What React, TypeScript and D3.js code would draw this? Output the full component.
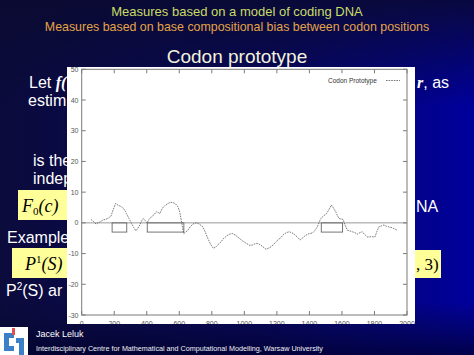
import React from "react";
import * as d3 from "d3";

const W = 474;
const H = 355;

const xTicks = [0, 200, 400, 600, 800, 1000, 1200, 1400, 1600, 1800, 2000];
const yTicks = [-30, -20, -10, 0, 10, 20, 30, 40, 50];

const posX = [
  57, 72, 88, 100, 112, 130, 150, 165, 180, 195, 208, 222, 235, 245, 258, 268, 275, 290, 306, 320,
  333, 345, 357, 368, 378, 390, 402, 415, 429, 444, 459, 470, 480, 490, 500, 515, 531, 546, 561, 577,
  592, 603, 612, 620, 627, 640, 653, 668, 684, 696, 708, 720, 733, 745, 760, 776, 793, 810, 826, 840,
  857, 870, 884, 898, 913, 929, 944, 959, 975, 990, 1010, 1031, 1050, 1065, 1082, 1095, 1110, 1133, 1150, 1164,
  1180, 1194, 1210, 1225, 1240, 1258, 1276, 1292, 1307, 1325, 1343, 1360, 1378, 1398, 1419, 1435, 1449, 1460, 1470, 1488,
  1505, 1520, 1535, 1548, 1562, 1572, 1582, 1595, 1607, 1620, 1633, 1648, 1664, 1680, 1694, 1710, 1725, 1740, 1756, 1780,
  1803, 1815, 1827, 1842, 1858, 1873, 1888, 1910, 1929, 1940,
];
const protoY = [
  1.1, 0.5, -0.4, 0, 0.3, 0.9, 1.2, 1.6, 2.2, 4.5, 6.3, 5.8, 5.5, 5.2, 4.6, 3.8, 3, 1.5, -0.2, -1.5,
  -2.6, -1.8, -0.7, 0.6, 1.4, 0.8, 0, 1.2, 2, 2.6, 3.6, 3.4, 3, 4.2, 5, 5.8, 6.3, 6.7, 6.6, 6.2,
  5.2, 3.5, 0.9, -1.5, -3.5, -3, -2.4, -1.2, -0.4, -0.1, 0, -0.3, -0.8, -1.3, -3, -5.1, -7, -8.3, -7.8, -7,
  -6.2, -5.2, -4.6, -4, -3.6, -3.5, -4, -4.6, -5.3, -5.9, -6.6, -7.3, -7.2, -6.8, -6.7, -7.1, -7.6, -8.6, -8.2, -7.8,
  -7, -6.2, -5.4, -4.8, -3.8, -3.2, -2.9, -3.2, -3.7, -4.6, -5.6, -4.8, -4, -3.5, -3.3, -2.4, -1.3, 0.2, 1.4, 2.3,
  3, 4.3, 5.8, 4.8, 3.6, 2.4, 1.4, 1.3, 1.1, -0.8, -2.4, -2.6, -2.9, -3.2, -3.7, -3.2, -2.9, -3.8, -4.6, -4.5,
  -4.6, -2.8, -1.3, -1, -0.7, -1.1, -1.3, -1.6, -2.1, -2.4,
];

const regionStart = [187, 403, 1473];
const regionEnd = [277, 628, 1604];
const regionDepth = [-3, -3, -3];

const seriesName = "Codon Prototype";

export default function App() {
  const left = 81.7;
  const right = 407;
  const top = 69.3;
  const bottom = 315;
  const x = d3.scaleLinear().domain([0, 2000]).range([left, right]);
  const y = d3.scaleLinear().domain([-30, 50]).range([bottom, top]);
  const pts: [number, number][] = posX.map((v, i) => [v, protoY[i]]);
  const line = d3
    .line<[number, number]>()
    .x((d) => x(d[0]))
    .y((d) => y(d[1]))
    .curve(d3.curveLinear);
  const tickLen = 4;
  const sans = "'Liberation Sans', Arial, sans-serif";
  const serif = "'Liberation Serif', 'DejaVu Serif', serif";
  const axisCol = "#7a7a7a";
  const labCol = "#555";

  return (
    <svg
      width={W}
      height={H}
      style={{ position: "fixed", left: 0, top: 0, display: "block" }}
    >
      <defs>
        <linearGradient id="bgH" x1="0" y1="0" x2="1" y2="0">
          <stop offset="0" stopColor="#0b0b3c" />
          <stop offset="0.55" stopColor="#07075e" />
          <stop offset="1" stopColor="#00009c" />
        </linearGradient>
        <linearGradient id="bgV" x1="0" y1="0" x2="0" y2="1">
          <stop offset="0" stopColor="#0a0a30" stopOpacity="0.85" />
          <stop offset="0.3" stopColor="#0a0a30" stopOpacity="0" />
          <stop offset="0.85" stopColor="#0a0a30" stopOpacity="0" />
          <stop offset="1" stopColor="#00002a" stopOpacity="0.7" />
        </linearGradient>
        <clipPath id="panelClip">
          <rect x={0} y={0} width={W} height={324} />
        </clipPath>
        <clipPath id="leftClip">
          <rect x={0} y={60} width={67} height={264} />
        </clipPath>
        <clipPath id="rightClip">
          <rect x={415} y={60} width={59} height={264} />
        </clipPath>
      </defs>
      <rect x={0} y={0} width={W} height={H} fill="url(#bgH)" />
      <rect x={0} y={0} width={W} height={H} fill="url(#bgV)" />

      {/* slide titles */}
      <text x={237} y={16} textAnchor="middle" fontFamily={sans} fontSize={13} fill="#c9dc66">
        Measures based on a model of coding DNA
      </text>
      <text x={237} y={31} textAnchor="middle" fontFamily={sans} fontSize={12.4} fill="#e3a446">
        Measures based on base compositional bias between codon positions
      </text>
      <text x={237} y={63} textAnchor="middle" fontFamily={sans} fontSize={19} fill="#f2f2dc">
        Codon prototype
      </text>

      {/* slide body text, cut by the chart panel */}
      <g clipPath="url(#leftClip)">
        <g fontFamily={sans} fontSize={16} fill="#ffffff">
          <text x={29} y={88}>
            Let{" "}
            <tspan fontFamily={serif} fontStyle="italic" fontWeight="bold">
              f(
            </tspan>
          </text>
          <text x={28} y={106}>estim</text>
          <text x={33} y={166}>is the</text>
          <text x={33} y={184}>indep</text>
          <text x={7} y={243}>Example</text>
          <text x={6} y={296}>
            P<tspan fontSize={10} dy={-6}>2</tspan>
            <tspan dy={6}>(S) ar</tspan>
          </text>
        </g>
        <rect x={18} y={190} width={60} height={30} fill="#ffff99" />
        <text x={22} y={212} fontFamily={serif} fontStyle="italic" fontSize={18} fill="#000">
          F<tspan fontSize={11} dy={3} fontStyle="normal">0</tspan>
          <tspan dy={-3}>(c)</tspan>
        </text>
        <rect x={12} y={248} width={66} height={30} fill="#ffff99" />
        <text x={25} y={270} fontFamily={serif} fontStyle="italic" fontSize={18} fill="#000">
          P<tspan fontSize={11} dy={-7} fontStyle="normal">1</tspan>
          <tspan dy={7}>(S)</tspan>
        </text>
      </g>
      <g clipPath="url(#rightClip)">
        <g fontFamily={sans} fontSize={16} fill="#ffffff">
          <text x={417} y={88}>
            <tspan fontFamily={serif} fontStyle="italic" fontWeight="bold">r</tspan>, as
          </text>
          <text x={416} y={212}>NA</text>
        </g>
        <rect x={405} y={250} width={36} height={28} fill="#ffff99" />
        <text x={416} y={270} fontFamily={serif} fontSize={17} fill="#000">
          , 3)
        </text>
      </g>

      {/* chart panel */}
      <g clipPath="url(#panelClip)">
        <rect x={67} y={67} width={348} height={262} fill="#ffffff" />
        <line x1={left} x2={right} y1={y(0)} y2={y(0)} stroke="#9a9a9a" strokeWidth={1} />
        {regionStart.map((s, i) => (
          <rect
            key={i}
            x={x(s)}
            y={y(0)}
            width={x(regionEnd[i]) - x(s)}
            height={y(regionDepth[i]) - y(0)}
            fill="none"
            stroke="#666"
            strokeWidth={0.9}
          />
        ))}
        <path
          d={line(pts) || ""}
          fill="none"
          stroke="#555"
          strokeWidth={0.8}
          strokeDasharray="1.6,1"
        />
        <rect
          x={left}
          y={top}
          width={right - left}
          height={bottom - top}
          fill="none"
          stroke={axisCol}
          strokeWidth={1}
        />
        {xTicks.map((t) => (
          <g key={"x" + t}>
            <line x1={x(t)} x2={x(t)} y1={bottom} y2={bottom - tickLen} stroke={axisCol} />
            <line x1={x(t)} x2={x(t)} y1={top} y2={top + tickLen} stroke={axisCol} />
            <text x={x(t)} y={325.5} textAnchor="middle" fontFamily={sans} fontSize={7} fill={labCol}>
              {t}
            </text>
          </g>
        ))}
        {yTicks.map((t) => (
          <g key={"y" + t}>
            <line x1={left} x2={left + tickLen} y1={y(t)} y2={y(t)} stroke={axisCol} />
            <line x1={right} x2={right - tickLen} y1={y(t)} y2={y(t)} stroke={axisCol} />
            <text
              x={78.5}
              y={y(t) + 2.5}
              textAnchor="end"
              fontFamily={sans}
              fontSize={7}
              fill={labCol}
            >
              {t}
            </text>
          </g>
        ))}
        <text x={328} y={82.5} fontFamily={sans} fontSize={6.5} fill="#333">
          {seriesName}
        </text>
        <line x1={386} x2={400} y1={80.5} y2={80.5} stroke="#555" strokeWidth={0.8} strokeDasharray="1.6,1" />
      </g>

      {/* footer */}
      <rect x={0} y={327} width={28} height={28} fill="#ffffff" />
      <path d="M4,333 h10 v5 h-5 v8 h5 v5 h-10 z" fill="#3a7fc8" />
      <path d="M16,338 h8 v17 h-5 v-12 h-3 z" fill="#3a7fc8" />
      <rect x={12} y={328} width={3} height={7} fill="#e05050" />
      <text x={36} y={337} fontFamily={sans} fontSize={9} fill="#ffffff">
        Jacek Leluk
      </text>
      <text x={36} y={350.5} fontFamily={sans} fontSize={7.2} fill="#f0f0f4">
        Interdisciplinary Centre for Mathematical and Computational Modelling, Warsaw University
      </text>
    </svg>
  );
}
